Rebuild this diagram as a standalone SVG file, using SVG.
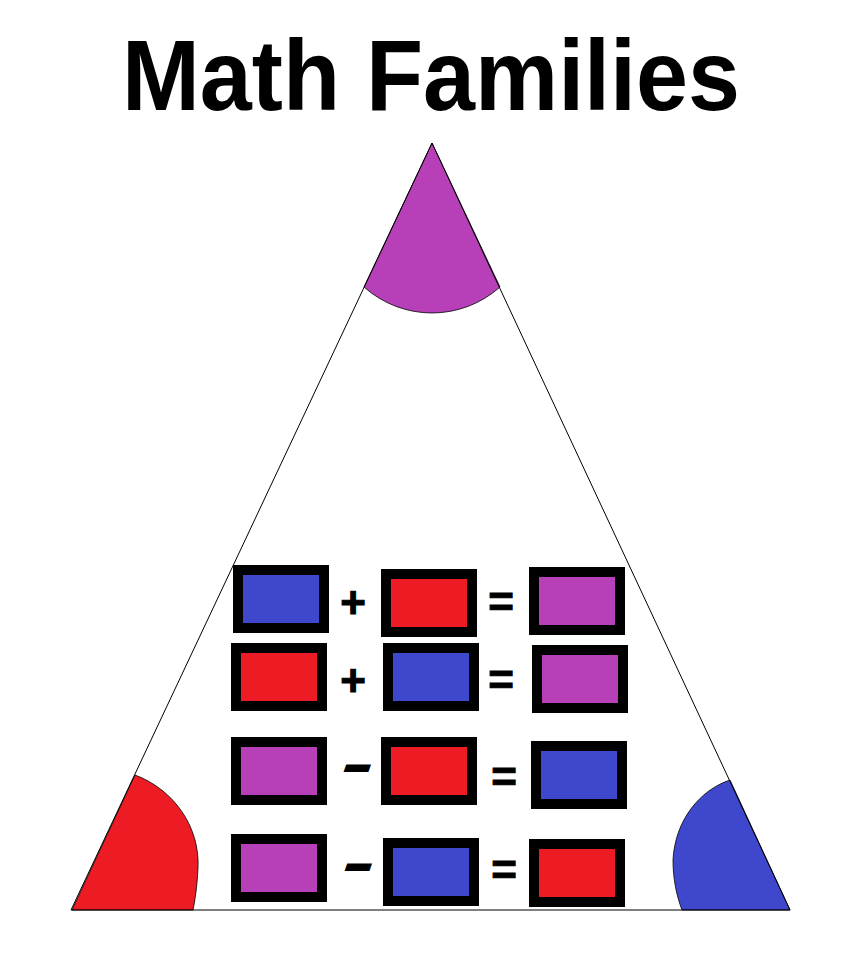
<svg xmlns="http://www.w3.org/2000/svg" width="862" height="960" viewBox="0 0 862 960">
<defs>
<style>
.title{font-family:"Liberation Sans",Arial,sans-serif;font-weight:bold;font-size:100px;fill:#000}
.op{font-family:"Liberation Sans",Arial,sans-serif;font-weight:bold;font-size:44px;fill:#000;stroke:#000;stroke-width:1;text-anchor:middle}
.minus{font-family:"Liberation Sans",Arial,sans-serif;font-weight:bold;font-size:44px;fill:#000;stroke:#000;stroke-width:3;text-anchor:middle}
.box{stroke:#000;stroke-width:10}
.blue{fill:#3F48CC}
.red{fill:#ED1C24}
.purple{fill:#B73FB8}
.edge{fill:none;stroke:#000;stroke-width:1}
.sector{stroke:#000;stroke-width:0.8}
</style>
</defs>
<rect width="862" height="960" fill="#fff"/>
<text class="title" x="122" y="110" textLength="618" lengthAdjust="spacingAndGlyphs">Math Families</text>

<g id="sectors">
<g id="sector-top"><path class="sector purple" d="M432,143 L500,287 A102,102 0 0 1 364,287 Z"/></g>
<g id="sector-left"><path class="sector red" d="M72,910 L135,775 C175,790 200,828 198,868 C197,888 195,900 193,910 Z"/></g>
<g id="sector-right"><path class="sector blue" d="M790,910 L730,780 C700,790 675,820 673,860 C673,880 677,897 682,910 Z"/></g>
</g>

<g id="triangle"><path class="edge" d="M432,143 L71,910 L790,910 Z"/></g>

<g id="row1">
<g id="r1b1"><rect class="box blue" x="238" y="570" width="86" height="58"/></g>
<text class="op" x="353" y="618">+</text>
<g id="r1b2"><rect class="box red" x="386" y="574" width="86" height="58"/></g>
<text class="op" x="501" y="617">=</text>
<g id="r1b3"><rect class="box purple" x="534" y="572" width="86" height="58"/></g>
</g>

<g id="row2">
<g id="r2b1"><rect class="box red" x="236" y="648" width="86" height="58"/></g>
<text class="op" x="353" y="696">+</text>
<g id="r2b2"><rect class="box blue" x="388" y="648" width="86" height="58"/></g>
<text class="op" x="501" y="695">=</text>
<g id="r2b3"><rect class="box purple" x="537" y="650" width="86" height="58"/></g>
</g>

<g id="row3">
<g id="r3b1"><rect class="box purple" x="236" y="742" width="86" height="58"/></g>
<text class="minus" transform="translate(353,780) skewX(-20)" x="0" y="0">–</text>
<g id="r3b2"><rect class="box red" x="386" y="742" width="86" height="58"/></g>
<text class="op" x="504" y="792">=</text>
<g id="r3b3"><rect class="box blue" x="536" y="746" width="86" height="58"/></g>
</g>

<g id="row4">
<g id="r4b1"><rect class="box purple" x="236" y="839" width="86" height="58"/></g>
<text class="minus" transform="translate(354,879) skewX(-20)" x="0" y="0">–</text>
<g id="r4b2"><rect class="box blue" x="388" y="843" width="86" height="58"/></g>
<text class="op" x="504" y="885">=</text>
<g id="r4b3"><rect class="box red" x="534" y="844" width="86" height="58"/></g>
</g>
</svg>
